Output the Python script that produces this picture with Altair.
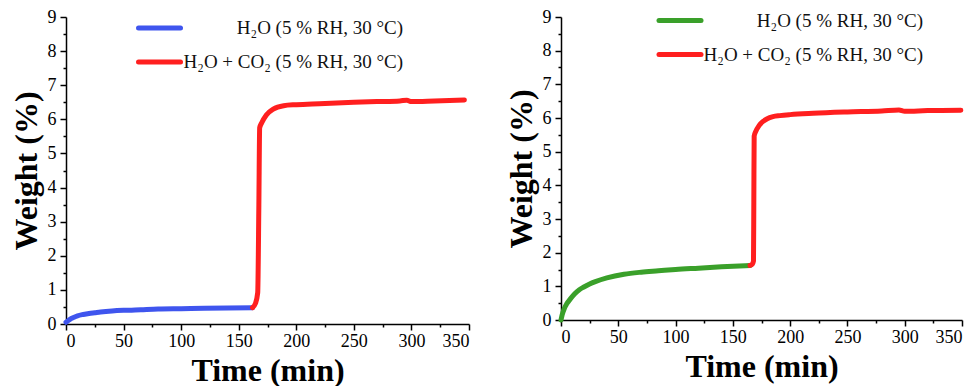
import altair as alt
import pandas as pd

# ---- data ----
SERIES = ["H₂O (5 % RH, 30 °C)", "H₂O + CO₂ (5 % RH, 30 °C)"]

# left panel
left_h2o_t = [0, 2, 4, 7, 10, 15, 20, 25, 30, 40, 50, 65, 80, 100, 120, 140, 162]
left_h2o_w = [0.05, 0.10, 0.15, 0.20, 0.24, 0.28, 0.31, 0.33, 0.35, 0.38, 0.40, 0.42, 0.44, 0.45, 0.46, 0.47, 0.48]
left_co2_t = [162, 164.5, 166.5, 167.5, 168.2, 170, 174, 180, 189, 200, 220, 250, 270, 290, 296, 300, 320, 346]
left_co2_w = [0.48, 0.60, 0.92, 3.5, 5.75, 5.90, 6.13, 6.30, 6.40, 6.43, 6.46, 6.50, 6.52, 6.54, 6.56, 6.52, 6.54, 6.57]

# right panel
right_h2o_t = [0, 1, 3, 5, 8, 12, 16, 20, 25, 30, 40, 55, 70, 85, 100, 120, 140, 165]
right_h2o_w = [0.0, 0.15, 0.35, 0.48, 0.62, 0.78, 0.90, 0.98, 1.07, 1.14, 1.25, 1.36, 1.42, 1.46, 1.50, 1.54, 1.58, 1.62]
right_co2_t = [165, 167, 168, 168.3, 168.6, 170, 173, 176.4, 180, 185, 191, 200, 220, 250, 280, 295, 300, 320, 349]
right_co2_w = [1.62, 1.66, 1.75, 3.5, 5.46, 5.60, 5.78, 5.90, 5.98, 6.04, 6.07, 6.10, 6.14, 6.18, 6.21, 6.24, 6.20, 6.22, 6.23]

X_TICKS = list(range(0, 351, 25))
Y_TICKS = [i / 2 for i in range(0, 19)]

FONT = "Liberation Serif"
RED = "#ff1f1f"


def panel(t1, w1, t2, w2, c1, width, height, leg):
    xaxis = alt.Axis(
        values=X_TICKS,
        labelExpr="datum.value % 50 === 0 ? format(datum.value, 'd') : ''",
        tickSize={"condition": {"test": "datum.value % 50 === 0", "value": 6}, "value": 3},
        title="Time (min)",
        labelFont=FONT, labelFontSize=18, labelColor="black", labelPadding=2,
        titlePadding=5,
        grid=False,
    )
    yaxis = alt.Axis(
        values=Y_TICKS,
        labelExpr="datum.value % 1 === 0 ? format(datum.value, 'd') : ''",
        tickSize={"condition": {"test": "datum.value % 1 === 0", "value": 6}, "value": 3},
        title="Weight (%)",
        labelFont=FONT, labelFontSize=18, labelColor="black", labelPadding=4,
        titlePadding=4,
        grid=False,
    )
    xs = alt.Scale(domain=[0, 350], nice=False, zero=False)
    ys = alt.Scale(domain=[0, 9], nice=False)
    colors = [c1, RED]
    layers = []
    for k, (tt, ww) in enumerate([(t1, w1), (t2, w2)]):
        df = pd.DataFrame({"t": tt, "w": ww, "i": list(range(len(tt)))})
        layers.append(
            alt.Chart(df).mark_line(
                strokeWidth=5, strokeCap="round", strokeJoin="round",
                interpolate="monotone", color=colors[k],
            ).encode(
                x=alt.X("t:Q", scale=xs, axis=xaxis),
                y=alt.Y("w:Q", scale=ys, axis=yaxis),
                order="i:Q",
            )
        )
    for k in range(2):
        one = pd.DataFrame({"label": [SERIES[k]]})
        layers.append(
            alt.Chart(one).mark_rule(strokeWidth=5, strokeCap="round", color=colors[k]).encode(
                x=alt.value(leg["x0"]), x2=alt.value(leg["x1"]), y=alt.value(leg["rows"][k])
            )
        )
        layers.append(
            alt.Chart(one).mark_text(
                font=FONT, fontSize=19, align="right", baseline="middle", color="#111111"
            ).encode(
                x=alt.value(leg["tx"]), y=alt.value(leg["rows"][k]), text="label:N"
            )
        )
    return alt.layer(*layers).properties(width=width, height=height)


left = panel(
    left_h2o_t, left_h2o_w, left_co2_t, left_co2_w,
    "#3f55ee", 403, 307,
    {"x0": 72.5, "x1": 114.5, "rows": [11, 45], "tx": 337},
)
right = panel(
    right_h2o_t, right_h2o_w, right_co2_t, right_co2_w,
    "#3aa02a", 401, 303,
    {"x0": 98, "x1": 140, "rows": [3.5, 37.5], "tx": 362},
)

chart = alt.hconcat(left, right, spacing=35).properties(
    padding={"left": 2, "top": 0, "right": 0, "bottom": 0}
).configure_view(stroke=None).configure_axis(
    domainColor="black", domainWidth=1.5, tickColor="black", tickWidth=1.5,
    labelOverlap=False,
    titleFont=FONT, titleFontSize=32, titleFontWeight="bold", titleColor="black",
)

chart.save("out.html", embed_options={"renderer": "svg", "actions": False})
